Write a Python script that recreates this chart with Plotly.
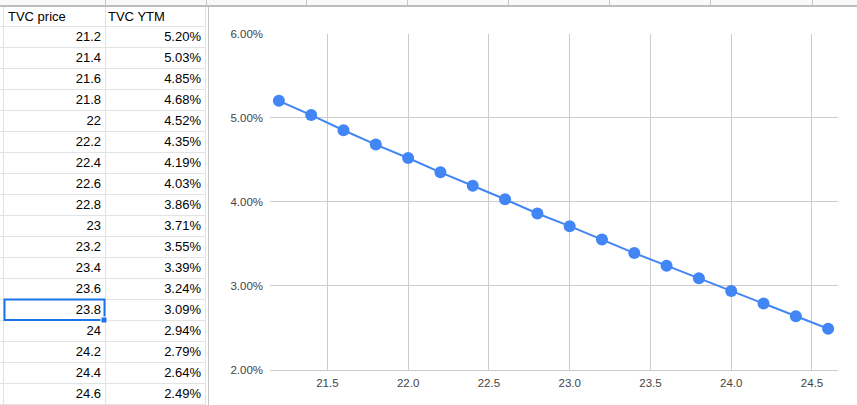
import plotly.graph_objects as go

# ---------------- data ----------------
col_headers = ["TVC price", "TVC YTM"]
tvc_price = [21.2, 21.4, 21.6, 21.8, 22.0, 22.2, 22.4, 22.6, 22.8, 23.0,
             23.2, 23.4, 23.6, 23.8, 24.0, 24.2, 24.4, 24.6]
tvc_ytm = [0.0520, 0.0503, 0.0485, 0.0468, 0.0452, 0.0435, 0.0419, 0.0403, 0.0386,
           0.0371, 0.0355, 0.0339, 0.0324, 0.0309, 0.0294, 0.0279, 0.0264, 0.0249]
x_ticks = [21.5, 22.0, 22.5, 23.0, 23.5, 24.0, 24.5]
y_ticks = [0.02, 0.03, 0.04, 0.05, 0.06]
selected_row = 13  # the highlighted cell (23.8)

# ---------------- geometry helpers ----------------
W, H = 857, 405
def px(x):
    return x / W
def py(y):
    return 1 - y / H

SHEET_FONT = "Arial, Liberation Sans, sans-serif"
GRID_SHEET = "#e2e3e3"
BLUE = "#4285f4"

price_txt = [f"{v:g}" for v in tvc_price]
ytm_txt = [f"{v * 100:.2f}%" for v in tvc_ytm]

fig = go.Figure()

# spreadsheet body (right aligned numbers)
fig.add_trace(go.Table(
    domain=dict(x=[px(1), px(209)], y=[0, py(5)]),
    columnwidth=[108, 100],
    header=dict(values=["", ""], height=18,
                fill_color="rgba(0,0,0,0)", line=dict(color="rgba(0,0,0,0)", width=0)),
    cells=dict(values=[price_txt, ytm_txt], height=21, align="right",
               font=dict(family=SHEET_FONT, size=13, color="#000000"),
               fill_color="rgba(0,0,0,0)", line=dict(color="rgba(0,0,0,0)", width=0)),
))

# spreadsheet header row (left aligned)
fig.add_trace(go.Table(
    domain=dict(x=[0, px(200)], y=[py(26), py(3)]),
    columnwidth=[100, 100],
    header=dict(values=col_headers, height=21, align="left",
                font=dict(family=SHEET_FONT, size=13, color="#000000"),
                fill_color="rgba(0,0,0,0)", line=dict(color="rgba(0,0,0,0)", width=0)),
    cells=dict(values=[[], []], height=21,
               fill_color="rgba(0,0,0,0)", line=dict(color="rgba(0,0,0,0)", width=0)),
))

# chart
fig.add_trace(go.Scatter(
    x=tvc_price, y=tvc_ytm, mode="lines+markers",
    line=dict(color=BLUE, width=2),
    marker=dict(size=12, color=BLUE),
    cliponaxis=False, hoverinfo="x+y",
))

shapes = []
# top column-header strip of the sheet
shapes.append(dict(type="rect", xref="paper", yref="paper", x0=0, x1=1, y0=py(5), y1=1,
                   fillcolor="#f8f9fa", line=dict(width=0), layer="below"))
for sx in [105.5, 206.5, 306.5, 407.5, 508.5, 609.5, 710.5, 812.5]:
    shapes.append(dict(type="line", xref="paper", yref="paper", x0=px(sx), x1=px(sx),
                       y0=py(0), y1=py(5), line=dict(color="#c7c7c7", width=1), layer="below"))
shapes.append(dict(type="line", xref="paper", yref="paper", x0=0, x1=1, y0=py(6), y1=py(6),
                   line=dict(color="#bdbdbd", width=2), layer="below"))
# sheet grid
for k in range(len(tvc_price) + 1):
    yy = 26.5 + 21 * k
    shapes.append(dict(type="line", xref="paper", yref="paper", x0=0, x1=px(205.5),
                       y0=py(yy), y1=py(yy), line=dict(color=GRID_SHEET, width=1), layer="below"))
for sx in [3.5, 105.5, 205.5]:
    shapes.append(dict(type="line", xref="paper", yref="paper", x0=px(sx), x1=px(sx),
                       y0=py(7), y1=0, line=dict(color=GRID_SHEET, width=1), layer="below"))
# chart frame left border
shapes.append(dict(type="line", xref="paper", yref="paper", x0=px(208.5), x1=px(208.5),
                   y0=py(7), y1=0, line=dict(color="#c4c4c4", width=1), layer="below"))
# selected cell
top = 26 + 21 * selected_row
shapes.append(dict(type="rect", xref="paper", yref="paper", x0=px(4.5), x1=px(104.5),
                   y0=py(top + 21), y1=py(top + 0.5), line=dict(color="#1a73e8", width=2),
                   fillcolor="rgba(0,0,0,0)", layer="above"))
shapes.append(dict(type="rect", xref="paper", yref="paper", x0=px(101), x1=px(107),
                   y0=py(323), y1=py(317), line=dict(color="#ffffff", width=1),
                   fillcolor="#1a73e8", layer="above"))

AX_FONT = dict(family=SHEET_FONT, size=11.5, color="#444444")
fig.update_layout(
    width=W, height=H, margin=dict(l=0, r=0, t=0, b=0, autoexpand=False),
    paper_bgcolor="white", plot_bgcolor="white", showlegend=False,
    shapes=shapes,
    xaxis=dict(domain=[px(270), px(838)], range=[21.145, 24.661],
               tickvals=x_ticks, ticktext=[f"{v:.1f}" for v in x_ticks],
               showgrid=True, gridcolor="#cccccc", gridwidth=1, zeroline=False,
               showline=True, linecolor="#cccccc", linewidth=1, automargin=False,
               ticks="", tickfont=AX_FONT, ticklabelstandoff=2, fixedrange=True),
    yaxis=dict(domain=[py(370), py(33.5)], range=[0.02, 0.06],
               tickvals=y_ticks, tickformat=".2%", automargin=False,
               showgrid=True, gridcolor="#cccccc", gridwidth=1, zeroline=False,
               showline=False, ticks="", tickfont=AX_FONT, ticklabelstandoff=6,
               fixedrange=True),
)

fig.write_html("out.html", config={"displayModeBar": False},
               post_script="document.body.style.margin='0';document.body.style.overflow='hidden';")
